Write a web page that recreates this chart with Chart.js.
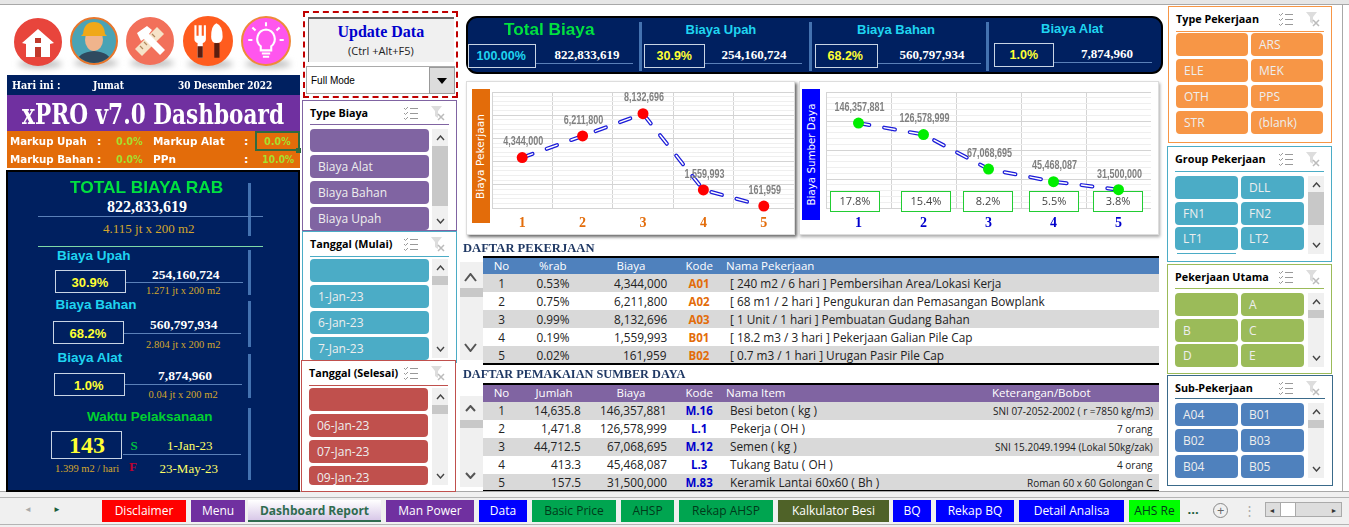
<!DOCTYPE html>
<html>
<head>
<meta charset="utf-8">
<title>xPRO v7.0 Dashboard</title>
<script src="https://cdn.jsdelivr.net/npm/chart.js"></script>
<style>
html, body { margin: 0; padding: 0; background: #fff; overflow: hidden; }
#page { position: relative; width: 1349px; height: 527px; overflow: hidden; font-family: "Open Sans", sans-serif; }
.b { position: absolute; box-sizing: border-box; }
.t { position: absolute; white-space: nowrap; line-height: 1; }
.serif { font-family: "Liberation Serif", serif; }
.slab { font-family: "DejaVu Serif", serif; }
.arial { font-family: "Liberation Sans", sans-serif; }
.dejavu { font-family: "DejaVu Sans", sans-serif; }
.item { position: absolute; box-sizing: border-box; border-radius: 4px; color: #eee; font-size: 12px; line-height: 23px; padding-left: 8px; overflow: hidden; }
canvas { display: block; }
</style>
</head>
<body>
<div id="page"></div>
<script>
// chart data
const jobCategories = ['1', '2', '3', '4', '5'];
const jobCosts = [4344000, 6211800, 8132696, 1559993, 161959];
const resourceCategories = ['1', '2', '3', '4', '5'];
const resourceCosts = [146357881, 126578999, 67068695, 45468087, 31500000];
const resourceShares = ['17.8%', '15.4%', '8.2%', '5.5%', '3.8%'];

// tables
const jobNames = ['[ 240 m2 / 6 hari ] Pembersihan Area/Lokasi Kerja', '[ 68 m1 / 2 hari ] Pengukuran dan Pemasangan Bowplank',
    '[ 1 Unit / 1 hari ] Pembuatan Gudang Bahan', '[ 18.2 m3 / 3 hari ] Pekerjaan Galian Pile Cap', '[ 0.7 m3 / 1 hari ] Urugan Pasir Pile Cap'];
const jobShares = ['0.53%', '0.75%', '0.99%', '0.19%', '0.02%'];
const jobCodes = ['A01', 'A02', 'A03', 'B01', 'B02'];
const itemQty = ['14,635.8', '1,471.8', '44,712.5', '413.3', '157.5'];
const itemCodes = ['M.16', 'L.1', 'M.12', 'L.3', 'M.83'];
const itemNames = ['Besi beton ( kg )', 'Pekerja ( OH )', 'Semen ( kg )', 'Tukang Batu ( OH )', 'Keramik Lantai 60x60 ( Bh )'];
const itemNotes = ['SNI 07-2052-2002 ( r =7850 kg/m3)', '7 orang', 'SNI 15.2049.1994 (Lokal 50kg/zak)', '4 orang', 'Roman 60 x 60 Golongan C'];

const page = document.getElementById('page');
const fmt = (n) => n.toLocaleString('en-US');

function box(x, y, w, h, style) {
    const d = document.createElement('div');
    d.className = 'b';
    d.style.cssText = `left:${x}px;top:${y}px;width:${w}px;height:${h}px;` + (style || '');
    page.appendChild(d);
    return d;
}

// text helper: anchor l / c / r at x, vertically centred on y; fit squeezes to a given width
function txt(x, y, s, o) {
    o = o || {};
    const d = document.createElement('div');
    d.className = 't ' + (o.cls || '');
    d.textContent = s;
    d.style.fontSize = (o.size || 11) + 'px';
    d.style.color = o.color || '#000';
    if (o.bold) d.style.fontWeight = 'bold';
    page.appendChild(d);
    const w = d.offsetWidth, h = d.offsetHeight;
    const sx = o.fit ? o.fit / w : 1;
    const a = o.a || 'l';
    const left = a === 'l' ? x : a === 'c' ? x - w * sx / 2 : x - w * sx;
    d.style.left = left + 'px';
    d.style.top = (y - h / 2) + 'px';
    d.style.transformOrigin = 'left center';
    if (o.fit) d.style.transform = `scaleX(${sx})`;
    return d;
}

function svg(x, y, w, h, inner) {
    const d = box(x, y, w, h);
    d.innerHTML = `<svg width="${w}" height="${h}" viewBox="0 0 ${w} ${h}" style="display:block">${inner}</svg>`;
}

function chevrons(cx, upY, downY, w, h, sw, col) {
    const p = (a, b, c) => `<path d="M1 ${a} L${w / 2} ${b} L${w - 1} ${c}" fill="none" stroke="${col}" stroke-width="${sw}"/>`;
    svg(cx - w / 2, upY - h / 2, w, h, p(h - 1, 1, h - 1));
    svg(cx - w / 2, downY - h / 2, w, h, p(1, h - 1, 1));
}

/* ---------- window chrome ---------- */
box(0, 0, 1349, 5, 'background:#e6e6e6;border-bottom:1px solid #a8a8a8');
box(0, 491, 1349, 36, 'background:#f0f0f0;border-top:1px solid #a8a8a8');
box(0, 497, 1349, 1, 'background:#b4b4b4');
box(0, 524, 1349, 1, 'background:#b4b4b4');
box(1342, 5, 1, 486, 'background:#a8a8a8');

/* ---------- nav icons ---------- */
function icon(cx, cy, r, bg, border, inner) {
    box(cx - r + 4, cy + r - 6, r * 2 - 4, 8, 'background:#bbb;border-radius:50%;filter:blur(3px)');
    const d = box(cx - r, cy - r, r * 2, r * 2, `background:${bg};border-radius:50%;border:2px solid ${border};overflow:hidden`);
    d.innerHTML = `<svg width="${r * 2 - 4}" height="${r * 2 - 4}" viewBox="0 0 44 44" style="display:block">${inner}</svg>`;
}
icon(38, 42, 24, '#e8453c', '#e8453c', '<path d="M22 9 L6 23 L10 24 L10 37 L34 37 L34 24 L38 23 Z" fill="#fff"/><rect x="19" y="27" width="6" height="10" fill="#c0392b"/><rect x="19" y="18" width="6" height="5" fill="#c0392b"/>');
icon(94, 41, 24, '#4aa3b5', '#e8762c', '<path d="M4 44 Q6 33 22 32 Q38 33 40 44 Z" fill="#2f4a5f"/><ellipse cx="22" cy="21" rx="9" ry="11" fill="#f0b48c"/><path d="M11 15 Q12 3 22 3 Q32 3 33 15 L35 17 L9 17 Z" fill="#f0a818"/>');
icon(150, 41, 24, '#f2705a', '#f2705a', '<path d="M7 30 L29 8 L36 15 L14 37 Z" fill="#f6e3c8"/><path d="M12 27 L15 30 M16 23 L19 26 M20 19 L23 22 M24 15 L27 18" stroke="#b08a60" stroke-width="1.2"/><path d="M9 14 L19 7 L24 11 L21 15 L37 31 L32 36 L16 20 L13 22 Z" fill="#fff"/>');
icon(208, 41, 25, '#ff5c1e', '#ff5c1e', '<path d="M9 7 L9 20 Q9 23 12 24 L12 38 L17 38 L17 24 Q20 23 20 20 L20 7 L18 7 L18 17 L16 17 L16 7 L13 7 L13 17 L11 17 L11 7 Z" fill="#fff"/><rect x="12" y="27" width="5" height="11" fill="#5a1e10"/><path d="M25 18 Q25 7 30 5 Q36 7 36 18 Q36 24 30 24 Q25 24 25 18 Z" fill="#fff"/><rect x="28" y="24" width="5" height="14" fill="#5a1e10"/>');
icon(266, 41, 25, '#ff55ee', '#ee8a3a', '<path d="M22 11 A9 9 0 0 1 27 27 L27 31 L17 31 L17 27 A9 9 0 0 1 22 11 Z" fill="none" stroke="#fff" stroke-width="2"/><path d="M18 34 L26 34 M19 37 L25 37 M22 4 L22 8 M9 9 L12 12 M35 9 L32 12 M5 21 L9 21 M35 21 L39 21" stroke="#fff" stroke-width="2"/>');

/* ---------- title block ---------- */
box(7, 75, 293, 20, 'background:#002060');
txt(12, 85, 'Hari ini :', { cls: 'slab', bold: true, size: 11, color: '#fff', fit: 49 });
txt(93, 85, 'Jumat', { cls: 'slab', bold: true, size: 11, color: '#fff', fit: 31 });
txt(178, 85, '30 Desember 2022', { cls: 'slab', bold: true, size: 11, color: '#fff', fit: 94 });
box(7, 95, 293, 36, 'background:#7030a0');
txt(22, 114, 'xPRO v7.0 Dashboard', { cls: 'slab', bold: true, size: 27, color: '#fff', fit: 262 });
box(7, 131, 293, 37, 'background:#e36c0a');
box(255, 131, 45, 20, 'background:#fff;border:2px solid #2f6b3f');
box(257, 133, 41, 16, 'background:#e36c0a');
box(296, 148, 5, 5, 'background:#2f6b3f');
const mk = { cls: 'dejavu', bold: true, size: 11, color: '#fff' };
const mv = { cls: 'dejavu', bold: true, size: 11, color: '#a6e22e' };
txt(10, 141, 'Markup Upah', { ...mk, fit: 77 }); txt(97, 141, ':', mk);
txt(116, 141, '0.0%', { ...mv, fit: 27 });
txt(153, 141, 'Markup Alat', { ...mk, fit: 72 }); txt(244, 141, ':', mk);
txt(264, 141, '0.0%', { ...mv, fit: 27 });
txt(10, 159, 'Markup Bahan', { ...mk, fit: 84 }); txt(97, 159, ':', mk);
txt(116, 159, '0.0%', { ...mv, fit: 27 });
txt(153, 159, 'PPn', { ...mk, fit: 23 }); txt(244, 159, ':', mk);
txt(262, 159, '10.0%', { ...mv, fit: 32 });

/* ---------- RAB panel ---------- */
box(6, 170, 294, 322, 'background:#002060;border:2px solid #000');
[[183, 53], [250, 45], [301, 46], [354, 44], [408, 72]].forEach(([y, h]) => box(248, y, 3, h, 'background:#4472b0'));
const NUM = { cls: 'serif', bold: true, color: '#fff', a: 'c' };
const GOLD = { cls: 'serif', color: '#d4a72c', a: 'c' };
const CYAN = { cls: 'arial', bold: true, size: 13.5, color: '#1fd4f0', a: 'c' };
const YEL = { cls: 'arial', bold: true, size: 13, color: '#ffff33', a: 'c' };
txt(146, 187, 'TOTAL BIAYA RAB', { cls: 'arial', bold: true, size: 17, color: '#00e040', a: 'c', fit: 153 });
txt(147, 207, '822,833,619', { ...NUM, size: 16 });
box(38, 216, 225, 1, 'background:#5a80b8');
txt(149, 228, '4.115 jt x 200 m2', { ...GOLD, size: 13 });
box(38, 246, 225, 1, 'background:#7fd8a8');

function costRow(name, nameX, nameY, pct, bx, by, amount, amtX, amtY, lineY, lineEnd, note, noteY) {
    txt(nameX, nameY, name, CYAN);
    box(bx, by, 71, 23, 'border:1px solid #c8d4e4');
    txt(bx + 35, by + 12, pct, YEL);
    box(bx + 71, lineY, lineEnd - bx - 71, 1, 'background:#5a80b8');
    txt(amtX, amtY, amount, { ...NUM, size: 13.5 });
    txt(183, noteY, note, { ...GOLD, size: 10.5 });
}
costRow('Biaya Upah', 94, 256, '30.9%', 55, 270, '254,160,724', 186, 275, 282, 243, '1.271 jt x 200 m2', 291);
costRow('Biaya Bahan', 96, 305, '68.2%', 53, 321, '560,797,934', 184, 325, 333, 241, '2.804 jt x 200 m2', 345);
costRow('Biaya Alat', 90, 358, '1.0%', 54, 373, '7,874,960', 185, 376, 384, 242, '0.04 jt x 200 m2', 395);
txt(150, 417, 'Waktu Pelaksanaan', { ...CYAN, color: '#00d030' });
box(51, 431, 71, 28, 'border:1px solid #c8d4e4');
txt(87, 445, '143', { cls: 'serif', bold: true, size: 24, color: '#ffff33', a: 'c' });
txt(87, 469, '1.399 m2 / hari', { ...GOLD, size: 10.5 });
txt(134, 445, 'S', { cls: 'serif', bold: true, size: 13, color: '#00c040', a: 'c' });
txt(133, 466, 'F', { cls: 'serif', bold: true, size: 13, color: '#c00030', a: 'c' });
box(123, 454, 118, 1, 'background:#5a80b8');
txt(190, 445, '1-Jan-23', { cls: 'serif', size: 13, color: '#ffff66', a: 'c' });
txt(189, 468, '23-May-23', { cls: 'serif', size: 13, color: '#ffff66', a: 'c' });

/* ---------- update button ---------- */
box(303, 11, 155, 87, 'border:2px dashed #c00000');
box(308, 17, 146, 45, 'background:#f0f0f0;border-top:2px solid #666;border-left:1px solid #666');
txt(381, 32, 'Update Data', { cls: 'serif', bold: true, size: 16, color: '#0000cc', a: 'c' });
txt(381, 50, '(Ctrl +Alt+F5)', { size: 11, color: '#222', a: 'c' });
box(306, 66, 149, 28, 'background:#fff;border:1px solid #aaa');
box(429, 67, 26, 27, 'background:#dcdcdc;border:1px solid #999');
txt(311, 81, 'Full Mode', { cls: 'arial', size: 10, color: '#000' });
box(437, 78, 0, 0, 'border-left:5px solid transparent;border-right:5px solid transparent;border-top:6px solid #000');

/* ---------- slicers ---------- */
function slicerIcons(x, y) {
    svg(x, y - 7, 15, 14, '<path d="M1 2 L2.5 3.5 L5 1 M1 7 L2.5 8.5 L5 6 M1 12 L2.5 13.5 L5 11" fill="none" stroke="#999" stroke-width="1"/><path d="M7 2.5 L15 2.5 M7 7.5 L15 7.5 M7 12.5 L15 12.5" stroke="#999" stroke-width="1"/>');
    svg(x + 28, y - 7, 15, 15, '<path d="M0 0 L11 0 L7 5 L7 12 L4 10 L4 5 Z" fill="#ddd"/><path d="M7 8 L13 14 M13 8 L7 14" stroke="#bbb" stroke-width="1.5"/>');
}
function scrollbar(x, y, h, ty, th) {
    box(x, y, 16, h, 'background:#f0f0f0');
    box(x, ty, 16, th, 'background:#c8c8c8');
    chevrons(x + 8, y + 9, y + h - 9, 9, 6, 1.4, '#444');
}
function slicer(o) {
    box(o.x, o.y, o.w, o.h, `background:#fff;border:1px solid ${o.frame || o.color}`);
    txt(o.tx, o.y + 13, o.title, { size: 10.8, bold: true, color: '#000' });
    box(o.tx, o.lineY, o.lineW, 1, `background:${o.frame || o.color}`);
    slicerIcons(o.iconX, o.y + 13);
    o.labels.forEach((s, i) => {
        const col = i % o.cols, row = Math.floor(i / o.cols);
        const top = o.rowY + row * o.rowH;
        const cut = o.clip && top + o.itemH > o.clip ? o.clip - top : o.itemH;
        const it = document.createElement('div');
        it.className = 'item';
        it.textContent = s;
        it.style.cssText = `left:${o.tx + col * o.colW}px;top:${top}px;width:${o.itemW}px;height:${cut}px;background:${o.color}`;
        page.appendChild(it);
    });
    if (o.sb) scrollbar(o.sb[0], o.rowY, o.sb[1], o.sb[2], o.sb[3]);
}
const costTypes = ['', 'Biaya Alat', 'Biaya Bahan', 'Biaya Upah'];
const startDates = ['', '1-Jan-23', '6-Jan-23', '7-Jan-23'];
const finishDates = ['', '06-Jan-23', '07-Jan-23', '09-Jan-23'];
const workTypes = ['', 'ARS', 'ELE', 'MEK', 'OTH', 'PPS', 'STR', '(blank)'];
const workGroups = ['', 'DLL', 'FN1', 'FN2', 'LT1', 'LT2'];
const mainWorks = ['', 'A', 'B', 'C', 'D', 'E'];
const subWorks = ['A04', 'B01', 'B02', 'B03', 'B04', 'B05'];
const single = { cols: 1, colW: 0, itemW: 119, itemH: 23, rowH: 26, lineW: 139, iconX: 403 };
slicer({ ...single, x: 302, y: 100, w: 155, h: 131, color: '#8064a2', title: 'Type Biaya', tx: 310, lineY: 124, rowY: 129, labels: costTypes, clip: 230, sb: [432, 101, 146, 60] });
slicer({ ...single, x: 302, y: 231, w: 155, h: 132, color: '#4bacc6', title: 'Tanggal (Mulai)', tx: 310, lineY: 256, rowY: 259, labels: startDates, sb: [432, 99, 276, 9] });
slicer({ ...single, x: 301, y: 360, w: 155, h: 132, color: '#c0504d', title: 'Tanggal (Selesai)', tx: 309, lineY: 385, rowY: 388, labels: finishDates, clip: 485, sb: [432, 97, 405, 9] });

const dbl = { cols: 2, iconX: 1278 };
slicer({ ...dbl, x: 1168, y: 6, w: 164, h: 137, color: '#f79646', title: 'Type Pekerjaan', tx: 1176, lineY: 31, lineW: 148, rowY: 33, rowH: 26, colW: 75, itemW: 72, itemH: 23, labels: workTypes });
slicer({ ...dbl, x: 1167, y: 146, w: 165, h: 116, color: '#4bacc6', title: 'Group Pekerjaan', tx: 1175, lineY: 171, lineW: 149, rowY: 176, rowH: 25.6, colW: 66, itemW: 63, itemH: 23, labels: workGroups, sb: [1308, 78, 192, 33] });
box(1177, 253, 59, 1, 'background:#4bacc6');
slicer({ ...dbl, x: 1167, y: 264, w: 165, h: 110, color: '#9bbb59', title: 'Pekerjaan Utama', tx: 1175, lineY: 288, lineW: 149, rowY: 293, rowH: 25.6, colW: 66, itemW: 63, itemH: 23, labels: mainWorks, sb: [1308, 74, 310, 8] });
slicer({ ...dbl, x: 1167, y: 375, w: 166, h: 111, color: '#4f81bd', frame: '#3a6a8a', title: 'Sub-Pekerjaan', tx: 1175, lineY: 398, lineW: 150, rowY: 403, rowH: 25.8, colW: 66, itemW: 63, itemH: 23, labels: subWorks, sb: [1308, 75, 420, 8] });

/* ---------- summary strip ---------- */
box(466, 16, 697, 58, 'background:#002060;border:2px solid #000;border-radius:11px');
[639, 809, 986].forEach((x) => box(x, 22, 3, 49, 'background:#4472b0'));
txt(549, 29, 'Total Biaya', { cls: 'arial', bold: true, size: 17, color: '#00e040', a: 'c', fit: 90 });
const heads = [['Biaya Upah', 721, 29], ['Biaya Bahan', 896, 29], ['Biaya Alat', 1072, 28]];
heads.forEach(([s, x, y]) => txt(x, y, s, { cls: 'arial', bold: true, size: 13, color: '#1fd4f0', a: 'c' }));
const strip = [
    [468, 68, '100.00%', '#1fd4f0', 501, '822,833,619', 587, 44, 536, 633],
    [644, 61, '30.9%', '#ffff33', 674, '254,160,724', 754, 44, 705, 802],
    [815, 63, '68.2%', '#ffff33', 845, '560,797,934', 932, 44, 878, 981],
    [994, 60, '1.0%', '#ffff33', 1024, '7,874,960', 1107, 43, 1054, 1152]
];
strip.forEach(([bx, bw, pct, col, px, amt, ax, by, l1, l2]) => {
    box(bx, by, bw, 24, 'border:1px solid #c8d4e4');
    txt(px, by + 12, pct, { cls: 'arial', bold: true, size: 12.5, color: col, a: 'c' });
    txt(ax, by + 10, amt, { cls: 'serif', bold: true, size: 13, color: '#fff', a: 'c' });
    box(l1, by + 19, l2 - l1, 1, 'background:#5a80b8');
});

/* ---------- chart panels ---------- */
box(466, 81, 329, 154, 'background:#fff;border:1px solid #ddd;box-shadow:2px 2px 3px #666');
box(799, 81, 360, 154, 'background:#fff;border:1px solid #ddd;box-shadow:1px 2px 3px #aaa');
box(472, 89, 18, 134, 'background:#e36c0a');
box(802, 89, 18, 131, 'background:#0000ff');
function sideTitle(cx, cy, s, len) {
    const d = txt(cx, cy, s, { cls: 'dejavu', size: 11, color: '#fff', a: 'c' });
    const k = len / d.offsetWidth;
    d.style.left = (cx - d.offsetWidth / 2) + 'px';
    d.style.transformOrigin = 'center center';
    d.style.transform = `rotate(-90deg) scaleX(${k})`;
}
sideTitle(481, 156, 'Biaya Pekerjaan', 85);
sideTitle(811, 154, 'Biaya Sumber Daya', 102);

function addCanvas(x, y, w, h) {
    const c = document.createElement('canvas');
    c.width = w;
    c.height = h;
    box(x, y, w, h).appendChild(c);
    return c.getContext('2d');
}

// share boxes under the line, value labels above the markers
const pointLabels = {
    id: 'pointLabels',
    beforeDatasetsDraw(chart, args, opts) {
        if (!opts.shares) return;
        const ctx = chart.ctx;
        const pts = chart.getDatasetMeta(0).data;
        const nudge = [-4.5, 1.5, -1, 0, -1.5];
        ctx.save();
        ctx.textAlign = 'center';
        ctx.textBaseline = 'middle';
        opts.shares.forEach((s, i) => {
            const left = Math.round(pts[i].x + nudge[i] - 24.5) + 0.5;
            const top = chart.chartArea.bottom - 17 + 0.5;
            ctx.fillStyle = '#fff';
            ctx.fillRect(left, top, 49, 20);
            ctx.strokeStyle = '#22cc33';
            ctx.lineWidth = 1;
            ctx.strokeRect(left, top, 49, 20);
            ctx.fillStyle = '#444';
            ctx.font = '11px "Open Sans"';
            ctx.fillText(s, left + 24.5, top + 10.5);
        });
        ctx.restore();
    },
    afterDatasetsDraw(chart, args, opts) {
        const ctx = chart.ctx;
        ctx.save();
        ctx.textAlign = 'center';
        ctx.textBaseline = 'middle';
        ctx.font = 'bold 12px "Liberation Sans"';
        ctx.fillStyle = '#808080';
        chart.getDatasetMeta(0).data.forEach((p, i) => {
            ctx.save();
            ctx.translate(p.x + 1, p.y - 15.5);
            ctx.scale(0.75, 1);
            ctx.fillText(fmt(opts.values[i]), 0, 0);
            ctx.restore();
        });
        ctx.restore();
    }
};

function lineChart(ctx, labels, values, o) {
    return new Chart(ctx, {
        type: 'line',
        data: {
            labels: labels,
            datasets: [
                { data: values, showLine: false, clip: false, pointRadius: 5.5, pointHoverRadius: 5.5, pointBackgroundColor: o.marker, pointBorderWidth: 0, order: 0 },
                { data: values, borderColor: '#fff', borderWidth: 1.5, borderDash: [11, 15], borderCapStyle: 'round', pointRadius: 0, tension: 0, clip: false, order: 1 },
                { data: values, borderColor: '#1c1cd8', borderWidth: 4, borderDash: [11, 15], borderCapStyle: 'round', pointRadius: 0, tension: 0, clip: false, order: 2 }
            ]
        },
        options: {
            responsive: false,
            animation: false,
            layout: { autoPadding: false, padding: { left: 0, right: 0, top: 1, bottom: 0 } },
            plugins: { legend: { display: false }, tooltip: { enabled: false }, pointLabels: { values: values, shares: o.shares } },
            scales: {
                x: {
                    offset: true,
                    grid: { color: '#d4d4d4', drawTicks: false, offset: true },
                    border: { color: '#d4d4d4' },
                    ticks: { color: o.tick, padding: 7, font: { family: 'Liberation Serif', weight: 'bold', size: 14 } },
                    afterFit: (s) => { s.height = 25; }
                },
                y: {
                    min: 0, max: o.max,
                    grid: { drawTicks: false, lineWidth: 1, color: (c) => (c.tick.value % o.major === 0 ? '#d4d4d4' : '#efefef') },
                    border: { color: '#d4d4d4' },
                    ticks: { display: false, stepSize: o.major / o.minor },
                    afterFit: (s) => { s.width = 0; }
                }
            }
        },
        plugins: [pointLabels]
    });
}
lineChart(addCanvas(492, 91, 302, 142), jobCategories, jobCosts, { max: 10000000, major: 2000000, minor: 5, marker: '#ff0000', tick: '#e36c0a' });
lineChart(addCanvas(826, 91, 325, 142), resourceCategories, resourceCosts, { max: 200000000, major: 50000000, minor: 5, marker: '#00ee00', tick: '#0000cc', shares: resourceShares });

/* ---------- tables ---------- */
txt(463, 248, 'DAFTAR  PEKERJAAN', { cls: 'serif', bold: true, size: 12, color: '#1f3864', fit: 131 });
txt(463, 374, 'DAFTAR PEMAKAIAN SUMBER DAYA', { cls: 'serif', bold: true, size: 12, color: '#1f3864', fit: 222 });

function leftScroll(y, h, upY, thumbY, thumbH, downY, cw, ch) {
    box(460, y, 23, h, 'background:#f0f0f0');
    box(460, thumbY, 23, thumbH, 'background:#c8c8c8');
    chevrons(470, upY, downY, cw, ch, 2, '#555');
}
leftScroll(262, 98, 277, 288, 9, 347, 13, 9);
leftScroll(396, 91, 408, 420, 8, 475, 11, 7);

const cell = { size: 11.8, color: '#222' };
const headCell = { size: 11.5, color: '#fff' };
box(483, 256, 676, 2, 'background:#000');
box(483, 258, 676, 16, 'background:#4f81bd');
[['No', 501.7, 'c'], ['%rab', 553, 'c'], ['Biaya', 631, 'c'], ['Kode', 699, 'c'], ['Nama Pekerjaan', 726, 'l']].forEach(([s, x, a]) => txt(x, 266, s, { ...headCell, a: a }));
jobNames.forEach((name, i) => {
    const y = 274 + i * 18;
    if (i % 2 === 0) box(483, y, 676, i === 4 ? 17 : 18, 'background:#d9d9d9');
    const cy = y + 10;
    txt(501.7, cy, String(i + 1), { ...cell, a: 'c' });
    txt(553, cy, jobShares[i], { ...cell, a: 'c' });
    txt(667, cy, fmt(jobCosts[i]), { ...cell, a: 'r' });
    txt(699, cy, jobCodes[i], { size: 11.5, bold: true, color: '#e36c0a', a: 'c' });
    txt(730, cy, name, cell);
});
box(483, 363, 676, 2, 'background:#000');

box(483, 383, 676, 2, 'background:#000');
box(483, 385, 676, 17, 'background:#8064a2');
[['No', 501.7, 'c'], ['Jumlah', 554, 'c'], ['Biaya', 631, 'c'], ['Kode', 699, 'c'], ['Nama Item', 726, 'l'], ['Keterangan/Bobot', 992, 'l']].forEach(([s, x, a]) => txt(x, 393, s, { ...headCell, a: a }));
itemNames.forEach((name, i) => {
    const y = 402 + i * 18;
    if (i % 2 === 0) box(483, y, 676, i === 4 ? 17 : 18, 'background:#d9d9d9');
    const cy = y + 9;
    txt(501.7, cy, String(i + 1), { ...cell, a: 'c' });
    txt(581, cy, itemQty[i], { ...cell, a: 'r' });
    txt(667, cy, fmt(resourceCosts[i]), { ...cell, a: 'r' });
    txt(699, cy, itemCodes[i], { size: 11.5, bold: true, color: '#0000cc', a: 'c' });
    txt(730, cy, name, cell);
    txt(1153, cy, itemNotes[i], { size: 10, color: '#222', a: 'r' });
});
box(483, 490, 676, 1, 'background:#000');

/* ---------- sheet tabs ---------- */
const sheetTabs = ['Disclaimer', 'Menu', 'Dashboard Report', 'Man Power', 'Data', 'Basic Price', 'AHSP', 'Rekap AHSP', 'Kalkulator Besi', 'BQ', 'Rekap BQ', 'Detail Analisa', 'AHS Re'];
const tabX = [102, 191, 248, 386, 479, 532, 621, 679, 778, 893, 936, 1019, 1129];
const tabEnd = [186, 245, 381, 474, 527, 616, 674, 773, 889, 931, 1014, 1124, 1180];
const tabBg = ['#ff0000', '#7030a0', 'linear-gradient(#fff,#d8c8e8)', '#7030a0', '#0000ff', '#00a550', '#00a550', '#00a550', '#4f6228', '#0000ff', '#0000ff', '#0000ff', '#00ff00'];
const tabInk = ['#fff', '#fff', '#2f6b4f', '#fff', '#fff', '#003a1a', '#003a1a', '#003a1a', '#fff', '#fff', '#fff', '#fff', '#003a1a'];
sheetTabs.forEach((s, i) => {
    const d = box(tabX[i], 500, tabEnd[i] - tabX[i], 22, `background:${tabBg[i]};overflow:hidden;text-align:center;color:${tabInk[i]};font-size:12px;line-height:21px;white-space:nowrap;` + (i === 2 ? 'font-weight:bold;border-bottom:2px solid #2f6b4f;' : ''));
    d.textContent = s;
});
txt(28, 510, '◄', { cls: 'arial', size: 8, color: '#aaa', a: 'c' });
txt(57, 510, '►', { cls: 'arial', size: 8, color: '#1a5c3a', a: 'c' });
txt(1193, 509, '...', { size: 13, bold: true, color: '#1a5c3a', a: 'c' });
box(1213, 503, 15, 15, 'border:1px solid #888;border-radius:50%');
txt(1220.5, 510.5, '+', { size: 13, color: '#666', a: 'c' });
txt(1249, 510, '⋮', { cls: 'arial', size: 13, color: '#aaa', a: 'c' });
box(1265, 502, 77, 15, 'background:#ddd;border:1px solid #aaa');
box(1280, 502, 16, 15, 'background:#fff;border:1px solid #aaa');
txt(1272, 510, '◄', { cls: 'arial', size: 7, color: '#333', a: 'c' });
txt(1334, 510, '►', { cls: 'arial', size: 7, color: '#333', a: 'c' });
</script>
</body>
</html>
